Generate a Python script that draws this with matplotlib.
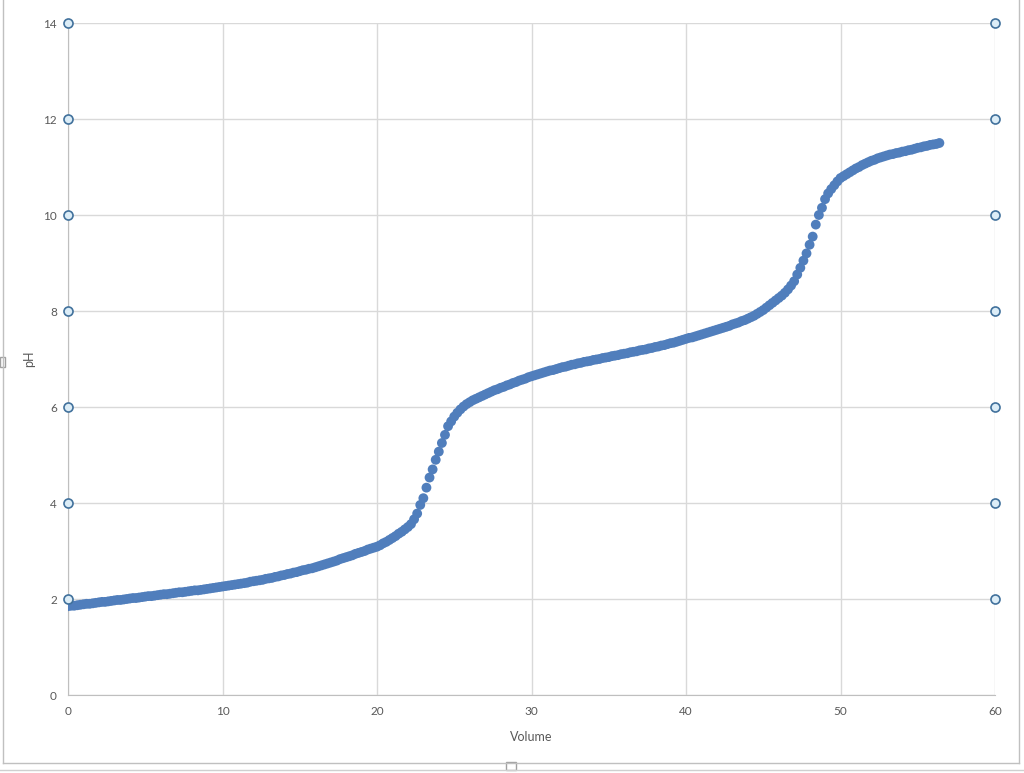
import numpy as np
import matplotlib.pyplot as plt
from matplotlib.lines import Line2D
from matplotlib.patches import Rectangle

# titration readings, 0.2 mL steps from 0 to 56.4 mL
volume = np.round(np.arange(283) * 0.2, 1)
ph = [
    1.85, 1.86, 1.86, 1.87, 1.88, 1.89, 1.90, 1.90, 1.91, 1.92,
    1.93, 1.94, 1.94, 1.95, 1.96, 1.97, 1.98, 1.98, 1.99, 2.00,
    2.01, 2.02, 2.02, 2.03, 2.04, 2.05, 2.06, 2.06, 2.07, 2.08,
    2.09, 2.10, 2.10, 2.11, 2.12, 2.13, 2.14, 2.14, 2.15, 2.16,
    2.17, 2.18, 2.18, 2.19, 2.20, 2.21, 2.22, 2.23, 2.24, 2.25,
    2.26, 2.27, 2.28, 2.29, 2.30, 2.31, 2.32, 2.33, 2.34, 2.36,
    2.37, 2.38, 2.39, 2.40, 2.42, 2.43, 2.44, 2.46, 2.47, 2.49,
    2.50, 2.52, 2.53, 2.55, 2.56, 2.58, 2.60, 2.61, 2.63, 2.64,
    2.66, 2.68, 2.70, 2.72, 2.74, 2.76, 2.78, 2.80, 2.83, 2.85,
    2.87, 2.89, 2.91, 2.94, 2.96, 2.98, 3.00, 3.03, 3.05, 3.07,
    3.09, 3.12, 3.16, 3.19, 3.23, 3.27, 3.31, 3.36, 3.40, 3.45,
    3.50, 3.56, 3.66, 3.78, 3.96, 4.10, 4.32, 4.53, 4.70, 4.90,
    5.07, 5.25, 5.42, 5.60, 5.70, 5.80, 5.88, 5.95, 6.01, 6.06,
    6.10, 6.14, 6.17, 6.20, 6.23, 6.26, 6.29, 6.32, 6.35, 6.37,
    6.40, 6.42, 6.45, 6.47, 6.50, 6.52, 6.55, 6.57, 6.59, 6.62,
    6.64, 6.66, 6.68, 6.70, 6.72, 6.74, 6.76, 6.77, 6.79, 6.81,
    6.83, 6.84, 6.86, 6.88, 6.89, 6.91, 6.92, 6.94, 6.95, 6.96,
    6.98, 6.99, 7.00, 7.02, 7.03, 7.04, 7.06, 7.07, 7.08, 7.10,
    7.11, 7.12, 7.14, 7.15, 7.16, 7.18, 7.19, 7.20, 7.22, 7.23,
    7.25, 7.26, 7.28, 7.29, 7.31, 7.33, 7.34, 7.36, 7.38, 7.40,
    7.42, 7.44, 7.45, 7.47, 7.49, 7.51, 7.53, 7.55, 7.57, 7.59,
    7.61, 7.63, 7.65, 7.67, 7.69, 7.72, 7.74, 7.76, 7.79, 7.81,
    7.84, 7.87, 7.90, 7.94, 7.98, 8.02, 8.07, 8.12, 8.17, 8.22,
    8.27, 8.32, 8.38, 8.45, 8.53, 8.62, 8.76, 8.90, 9.05, 9.20,
    9.38, 9.55, 9.80, 10.00, 10.15, 10.33, 10.45, 10.54, 10.62, 10.70,
    10.77, 10.81, 10.85, 10.89, 10.93, 10.97, 11.00, 11.04, 11.07, 11.10,
    11.13, 11.15, 11.18, 11.20, 11.22, 11.24, 11.26, 11.27, 11.29, 11.30,
    11.32, 11.33, 11.35, 11.36, 11.38, 11.40, 11.41, 11.43, 11.44, 11.46,
    11.47, 11.48, 11.50,
]
x_ticks = [0, 10, 20, 30, 40, 50, 60]
y_ticks = [0, 2, 4, 6, 8, 10, 12, 14]

plt.rcParams['font.family'] = ['Lato', 'DejaVu Sans']

fig = plt.figure(figsize=(10.24, 7.73), dpi=100)
ax = fig.add_axes([68 / 1024, 1 - 695 / 773, (995 - 68) / 1024, (695 - 23) / 773])

grid_c = '#d9d9d9'
ax.set_xlim(0, 60)
ax.set_ylim(0, 14)
ax.set_xticks(x_ticks)
ax.set_yticks(y_ticks)
ax.grid(True, color=grid_c, linewidth=1)
ax.set_axisbelow(True)
for s in ['top', 'right']:
    ax.spines[s].set_visible(False)
ax.spines['left'].set_color('#bfbfbf')
ax.spines['bottom'].set_color('#bfbfbf')
ax.tick_params(length=0, labelsize=8.5, labelcolor='#595959', pad=8)

ax.scatter(volume, ph, s=50, color='#507ebc', edgecolors='none', zorder=3)

# selection handles on the gridlines
for xv in [0, 60]:
    ax.plot([xv] * 7, y_ticks[1:], 'o', ms=6.5, mfc='#dcedf7', mec='#41719c',
            mew=1.2, clip_on=False, zorder=4)

ax.set_xlabel('Volume', fontsize=9, color='#595959', labelpad=10)
ax.set_ylabel('pH', fontsize=9, color='#595959', labelpad=6)

# chart frame
fig.add_artist(Line2D([3 / 1024, 3 / 1024], [1 - 763 / 773, 1.0], color='#c0c0c0', lw=1))
fig.add_artist(Line2D([1019 / 1024, 1019 / 1024], [1 - 763 / 773, 1.0], color='#c0c0c0', lw=1))
fig.add_artist(Line2D([3 / 1024, 1019 / 1024], [1 - 763 / 773, 1 - 763 / 773], color='#c0c0c0', lw=1))
fig.add_artist(Line2D([0, 1], [1 - 770 / 773, 1 - 770 / 773], color='#d0d0d0', lw=1))
fig.add_artist(Rectangle((506 / 1024, 1 - 770 / 773), 10 / 1024, 8 / 773,
                         facecolor='white', edgecolor='#a0a0a0', lw=1))
fig.add_artist(Rectangle((0, 1 - 367 / 773), 5 / 1024, 10 / 773,
                         facecolor='white', edgecolor='#a0a0a0', lw=1))

fig.savefig('out.png', dpi=100)
